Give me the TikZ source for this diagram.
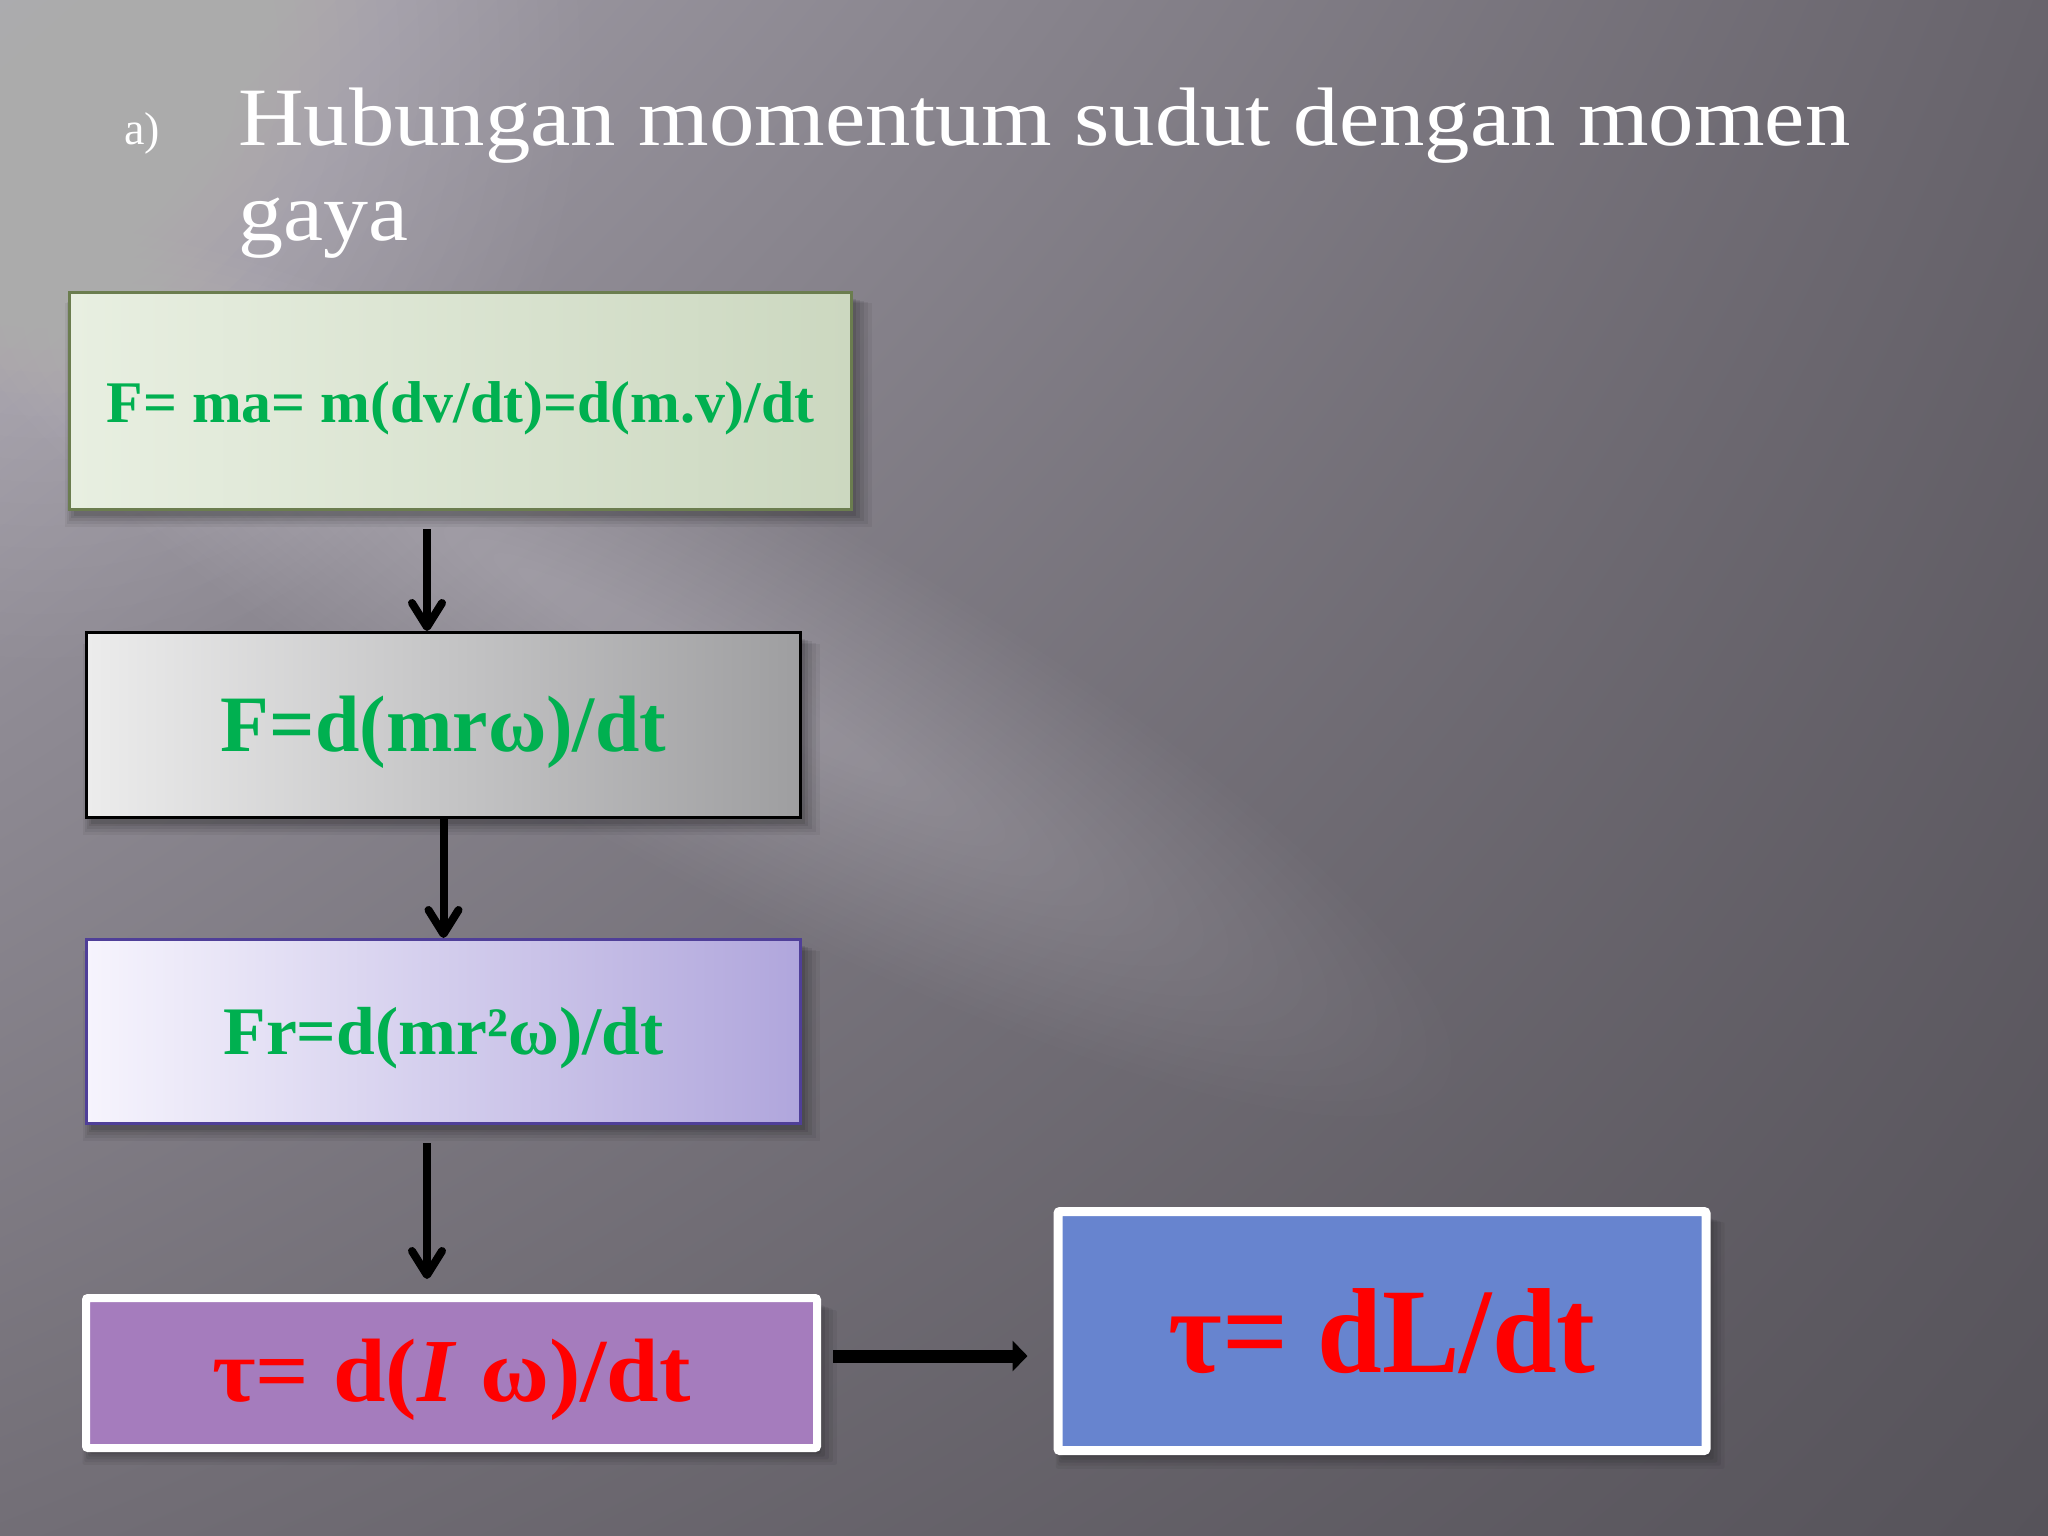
\documentclass[tikz,border=0pt]{standalone}
\usepackage{fontspec}
\usepackage{graphicx}
\setmainfont{Liberation Serif}
\usetikzlibrary{arrows.meta,shadows,shadings,calc}
\definecolor{txtgreen}{RGB}{0,176,80}
\definecolor{txtred}{RGB}{255,0,0}
\definecolor{olive}{RGB}{107,125,79}
\definecolor{bluepurple}{RGB}{79,63,152}
\definecolor{purplefill}{RGB}{165,124,189}
\definecolor{bluefill}{RGB}{103,132,207}
\definecolor{bgul}{RGB}{168,164,174}
\definecolor{bgur}{RGB}{104,100,108}
\definecolor{bgll}{RGB}{114,110,118}
\definecolor{bglr}{RGB}{86,83,90}
\definecolor{g1l}{RGB}{232,239,225}
\definecolor{g1r}{RGB}{204,216,192}
\definecolor{g2l}{RGB}{236,236,236}
\definecolor{g2r}{RGB}{158,158,160}
\definecolor{g3l}{RGB}{246,244,253}
\definecolor{g3r}{RGB}{176,166,220}
\newcommand{\fitw}[2]{\raisebox{-7pt}[\height][\depth]{\resizebox{#1}{\height}{#2}}}
\newcommand{\fitl}[2]{\resizebox{#1}{\height}{#2}}
\tikzset{
  softshadow/.style={
    general shadow={shadow xshift=4pt, shadow yshift=-6pt, shadow scale=1.000, fill=black, opacity=0.09},
    general shadow={shadow xshift=5pt, shadow yshift=-8pt, shadow scale=1.008, fill=black, opacity=0.08},
    general shadow={shadow xshift=6pt, shadow yshift=-10pt, shadow scale=1.016, fill=black, opacity=0.07},
    general shadow={shadow xshift=7pt, shadow yshift=-12pt, shadow scale=1.024, fill=black, opacity=0.06},
    general shadow={shadow xshift=8pt, shadow yshift=-14pt, shadow scale=1.032, fill=black, opacity=0.05}},
  boxbase/.style={rectangle, inner sep=0pt, align=center, softshadow},
  greenbox/.style={boxbase, draw=olive, line width=3pt, left color=g1l, right color=g1r},
  graybox/.style={boxbase, draw=black, line width=3pt, left color=g2l, right color=g2r},
  lavbox/.style={boxbase, draw=bluepurple, line width=3pt, left color=g3l, right color=g3r},
  purplebox/.style={boxbase, draw=white, line width=8pt, fill=purplefill, rounded corners=2pt},
  bluebox/.style={boxbase, draw=white, line width=9pt, fill=bluefill, rounded corners=2pt},
  varrow/.style={draw=black, line width=8pt, -{Straight Barb[length=24pt,width=30pt,round]}},
  harrow/.style={draw=black, line width=13pt, -{Triangle[length=15pt,width=30pt]}},
  titletext/.style={text=white, inner sep=0pt, align=left, font=\fontsize{83}{95}\selectfont},
}
\begin{document}
\begin{tikzpicture}[x=1pt,y=-1pt]
\useasboundingbox (0,0) rectangle (2048,1536);
% background
\shade[upper left=bgul, upper right=bgur, lower left=bgll, lower right=bglr]
  (0,0) rectangle (2048,1536);
\foreach \k in {1,...,24}{
  \fill[white, opacity=0.011] (40,60) ellipse [x radius={560-20*\k}, y radius={620-22*\k}];
}
\foreach \k in {1,...,24}{
  \fill[white, opacity=0.010, rotate around={-29:(700,670)}] (700,670) ellipse [x radius={880-28*\k}, y radius={200-7.5*\k}];
}
% title
\node[text=white, inner sep=0pt, anchor=base west, font=\fontsize{46}{46}\selectfont] (lbl) at (124,145) {a)};
\node[titletext, anchor=north west] (title) at (238,88)
  {\fitl{1612pt}{Hubungan momentum sudut dengan momen}\\\fitl{170pt}{gaya}};
% boxes
\node[greenbox, minimum width=782pt, minimum height=217pt, text=txtgreen,
      font=\fontsize{59}{59}\selectfont\bfseries] (b1) at (460.5,401)
  {\fitw{708pt}{F= ma= m(dv/dt)=d(m.v)/dt}};
\node[graybox, minimum width=714pt, minimum height=185pt, text=txtgreen,
      font=\fontsize{80}{80}\selectfont\bfseries] (b2) at (443.5,725)
  {\fitw{445pt}{F=d(mrω)/dt}};
\node[lavbox, minimum width=714pt, minimum height=184pt, text=txtgreen,
      font=\fontsize{68}{68}\selectfont\bfseries] (b3) at (443.5,1031.5)
  {\fitw{440pt}{Fr=d(mr²ω)/dt}};
\node[purplebox, minimum width=731pt, minimum height=150pt, text=txtred,
      font=\fontsize{90}{90}\selectfont\bfseries] (b4) at (451.5,1373)
  {\fitw{478pt}{τ= d(\textit{I} ω)/dt}};
\node[bluebox, minimum width=648pt, minimum height=239pt, text=txtred,
      font=\fontsize{121}{121}\selectfont\bfseries] (b5) at (1382,1331)
  {\fitl{427pt}{τ= dL/dt}};
% connectors
\coordinate (a1s) at ($(b1.south)+(-33.5,18)$);
\draw[varrow] (a1s) -- (a1s |- b2.north);
\draw[varrow] (b2.south) -- (b2.south |- b3.north);
\coordinate (a3s) at ($(b3.south)+(-16.5,18)$);
\coordinate (a3e) at ($(a3s |- b4.north)+(0,-15)$);
\draw[varrow] (a3s) -- (a3e);
\coordinate (a4s) at ($(b4.east)+(12,-17)$);
\coordinate (a4e) at ($(a4s -| b5.west)+(-26,0)$);
\draw[harrow] (a4s) -- (a4e);
\end{tikzpicture}
\end{document}
